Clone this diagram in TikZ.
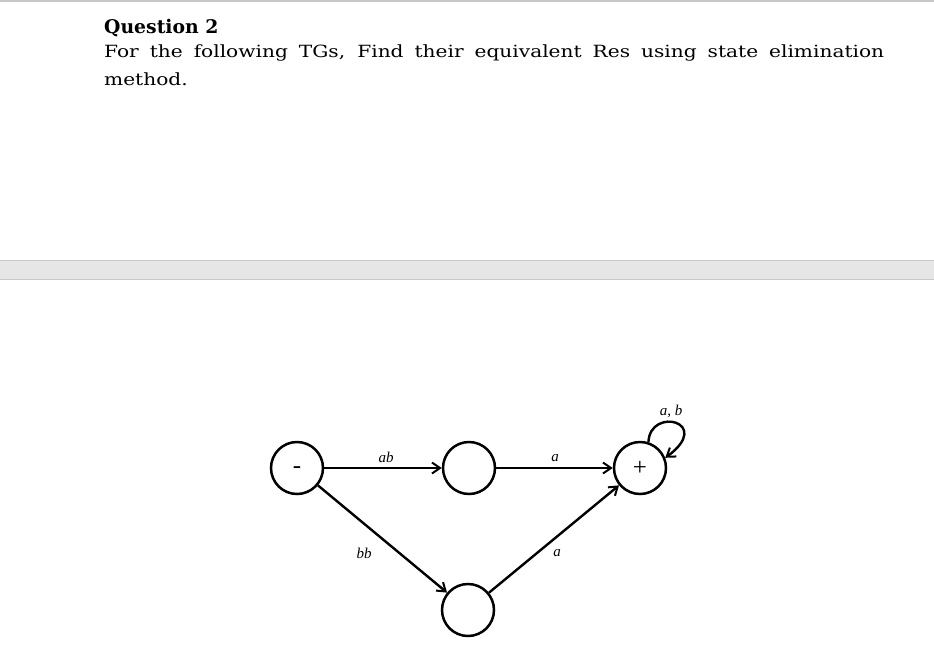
\documentclass[tikz,border=0pt]{standalone}
\usepackage{fontspec}
\setmainfont{DejaVu Serif}
\newfontfamily\bodyfont[FakeStretch=1.2]{DejaVu Serif}
\newfontfamily\lblfont{Liberation Serif}
\usetikzlibrary{arrows.meta}
\definecolor{rule}{HTML}{C8C8C8}
\definecolor{band}{HTML}{E6E6E6}
\tikzset{
  state/.style={circle,draw,line width=2.5pt,minimum size=52pt,inner sep=0pt,font=\lblfont\fontsize{25}{27}\selectfont},
  edge/.style={line width=2.4pt,-{Straight Barb[length=8pt,width=11pt,line width=2pt]}},
  lbl/.style={inner sep=0pt,font=\lblfont\itshape\fontsize{15}{17}\selectfont},
  txt/.style={inner sep=0pt,anchor=base west}
}
\begin{document}
\begin{tikzpicture}[x=1pt,y=-1pt]
\useasboundingbox (0,0) rectangle (934,659);
\fill[white] (0,0) rectangle (934,659);
% top rule
\draw[rule,line width=1.2pt] (0,1) -- (934,1);
% texts
\node[txt] (title) at (104,33) {\fontsize{18.8}{20}\selectfont\bfseries Question 2};
\node[txt] (line1) at (104,57) {\bodyfont\fontsize{16.8}{20}\selectfont\makebox[780pt][s]{For the following TGs, Find their equivalent Res using state elimination}};
\node[txt] (line2) at (104,85) {\bodyfont\fontsize{16.8}{20}\selectfont method.};
% grey band
\filldraw[fill=band,draw=rule,line width=1pt] (-2,260) rectangle (936,279.3);
% states
\node[state] (s) at (297,468) {\raisebox{-5pt}[0pt][0pt]{-}};
\node[state] (m) at (469,468) {};
\node[state] (f) at (640,468) {+};
\node[state] (b) at (468,610) {};
% edges
\draw[edge] (s) -- (m);
\draw[edge] (m) -- (f);
\draw[edge] (s) -- (b);
\draw[edge] (b) -- (f);
\draw[edge] (f.72) .. controls (650,406) and (714,422) .. (f.22);
% labels
\node[lbl] (lab) at (386,457) {ab};
\node[lbl] (la1) at (555,458) {a};
\node[lbl] (lbb) at (364,553) {bb};
\node[lbl] (la2) at (557,553) {a};
\node[lbl] (lloop) at (671,411) {a, b};
\end{tikzpicture}
\end{document}
